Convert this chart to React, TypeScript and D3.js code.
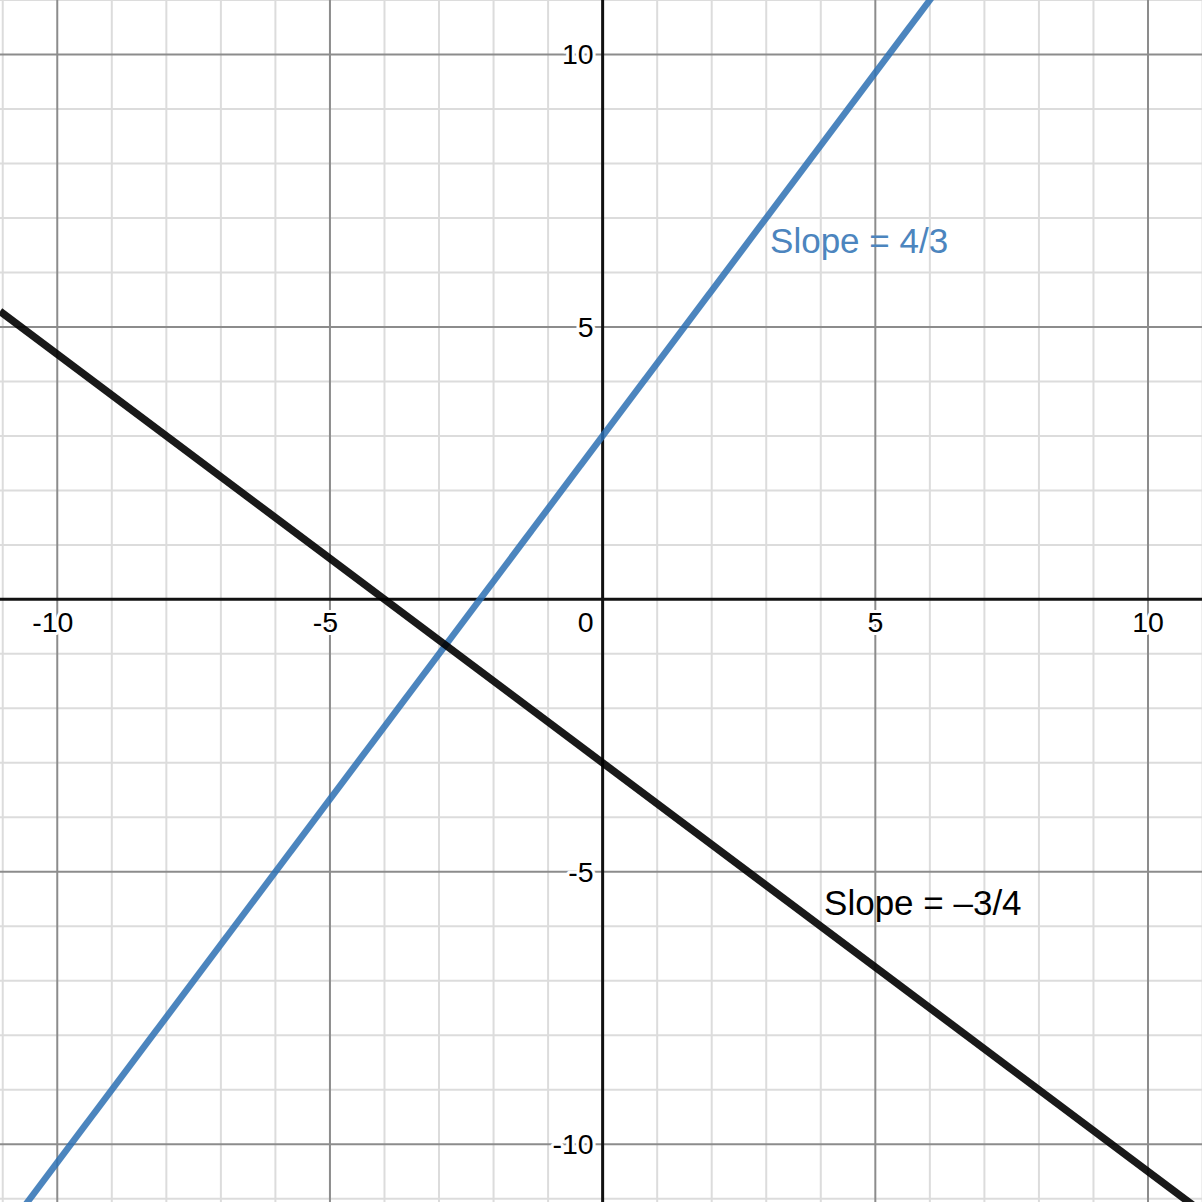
import React from "react";
import * as d3 from "d3";

// chart values
const xTickValues = [-10, -5, 5, 10];
const yTickValues = [-10, -5, 5, 10];
const lineNames = ["Slope = 4/3", "Slope = –3/4"];
const lineSlopes = [4 / 3, -3 / 4];
const lineIntercepts = [3, -3];
const lineColors = ["#2d70b3", "#000000"];

const W = 1202;
const H = 1202;
const FONT = "'Liberation Sans', Arial, Helvetica, sans-serif";

export default function App() {
  const x = d3.scaleLinear().domain([-11.05, 10.99]).range([0, W]);
  const y = d3.scaleLinear().domain([11.0, -11.06]).range([0, H]);

  const minor = d3.range(-11, 12).filter(v => v % 5 !== 0);
  const major = d3.range(-10, 11, 5).filter(v => v !== 0);

  const [x0, x1] = x.domain();
  const line = d3.line<[number, number]>()
    .x(d => x(d[0]))
    .y(d => y(d[1]));

  // label anchors in data coordinates
  const labelAt = [
    { x: 3.07, y: 6.36 },
    { x: 4.06, y: -5.8 },
  ];

  const halo = {
    stroke: "#fff",
    strokeWidth: 6,
    strokeLinejoin: "round" as const,
    paintOrder: "stroke",
  };

  return (
    <svg
      width={W}
      height={H}
      style={{ position: "absolute", top: 0, left: 0, background: "#fff" }}
      fontFamily={FONT}
    >
      {/* minor grid */}
      <g stroke="#dcdcdc" strokeWidth={2}>
        {minor.map(v => (
          <line key={"mx" + v} x1={x(v)} x2={x(v)} y1={0} y2={H} />
        ))}
        {minor.map(v => (
          <line key={"my" + v} x1={0} x2={W} y1={y(v)} y2={y(v)} />
        ))}
      </g>
      {/* major grid */}
      <g stroke="#8c8c8c" strokeWidth={2}>
        {major.map(v => (
          <line key={"Mx" + v} x1={x(v)} x2={x(v)} y1={0} y2={H} />
        ))}
        {major.map(v => (
          <line key={"My" + v} x1={0} x2={W} y1={y(v)} y2={y(v)} />
        ))}
      </g>
      {/* axes */}
      <g stroke="#111" strokeWidth={3}>
        <line x1={x(0)} x2={x(0)} y1={0} y2={H} />
        <line x1={0} x2={W} y1={y(0)} y2={y(0)} />
      </g>

      {/* tick labels */}
      <g fontSize={28.5} fill="#000">
        {xTickValues.map(v => (
          <text
            key={"xt" + v}
            x={x(v)}
            dx={v < 0 ? -4.5 : 0}
            y={y(0) + 33}
            textAnchor="middle"
            style={halo}
          >
            {v}
          </text>
        ))}
        {yTickValues.map(v => (
          <text
            key={"yt" + v}
            x={x(0) - 9}
            y={y(v) + 10}
            textAnchor="end"
            style={halo}
          >
            {v}
          </text>
        ))}
        <text x={x(0) - 9} y={y(0) + 33} textAnchor="end" style={halo}>
          0
        </text>
      </g>

      {/* lines */}
      {lineSlopes.map((m, i) => (
        <path
          key={"l" + i}
          d={line([
            [x0, m * x0 + lineIntercepts[i]],
            [x1, m * x1 + lineIntercepts[i]],
          ]) as string}
          fill="none"
          stroke={lineColors[i]}
          strokeOpacity={i === 0 ? 0.85 : 0.9}
          strokeWidth={i === 0 ? 6.5 : 7.5}
        />
      ))}

      {/* line labels */}
      {lineNames.map((name, i) => (
        <text
          key={"n" + i}
          x={x(labelAt[i].x)}
          y={y(labelAt[i].y)}
          fontSize={35}
          fill={i === 0 ? "#4c85be" : "#000"}
        >
          {name}
        </text>
      ))}
    </svg>
  );
}
